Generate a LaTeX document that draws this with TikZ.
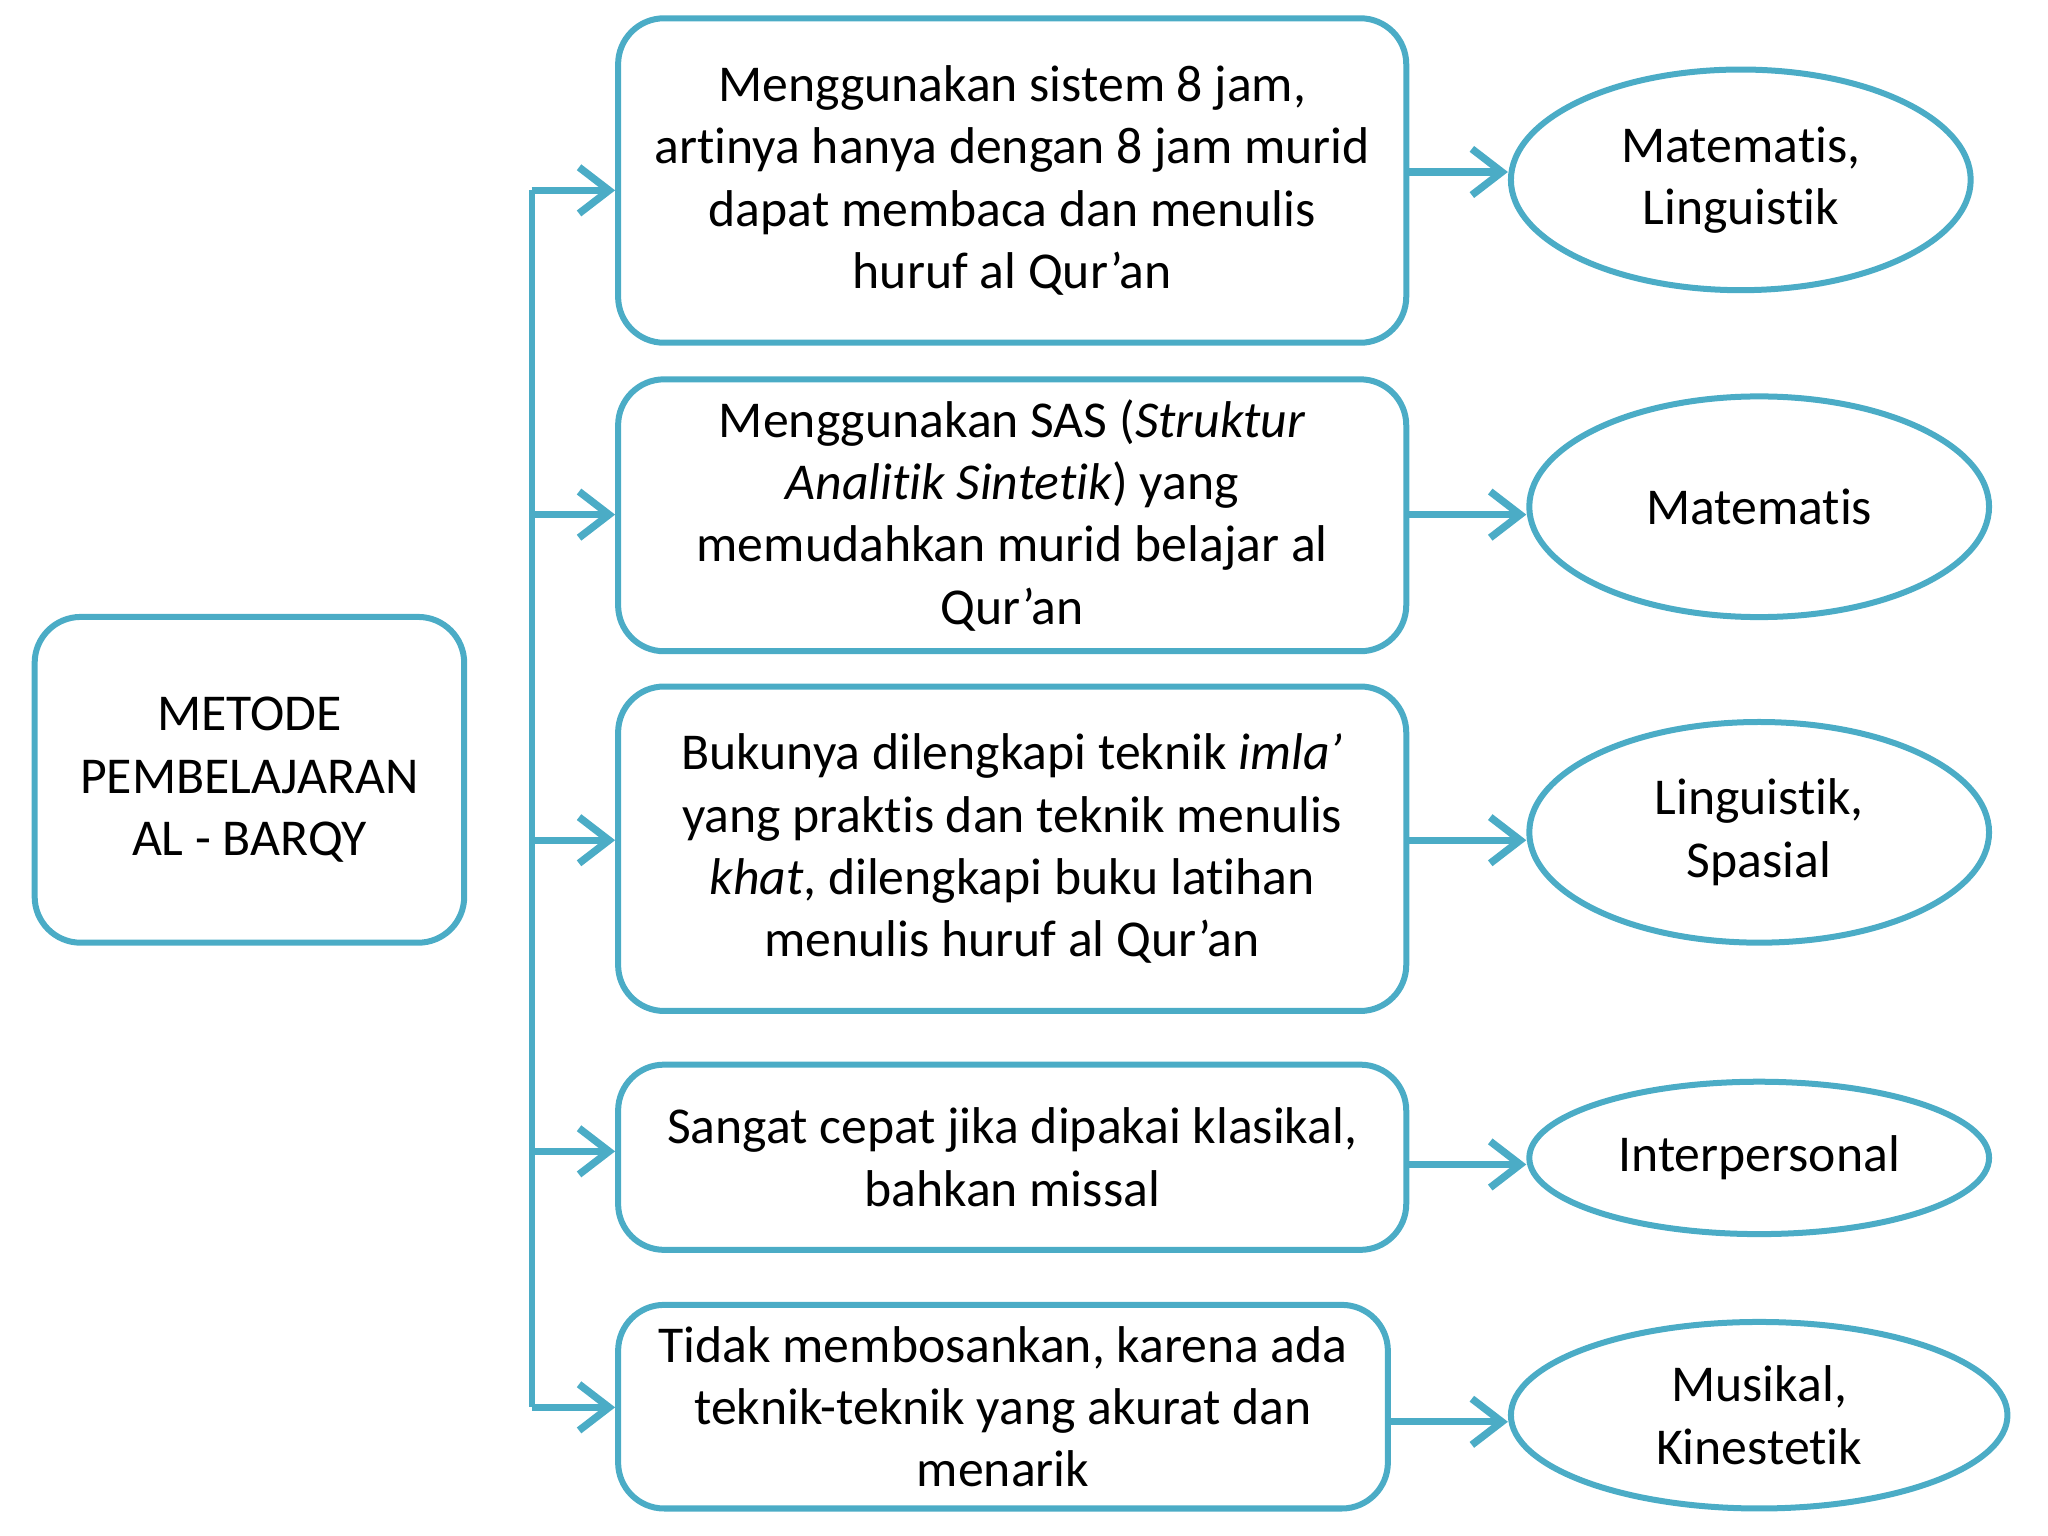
\documentclass[tikz,border=0pt]{standalone}
\usepackage{fontspec}
\setmainfont[RawFeature=-liga]{Carlito}
\usetikzlibrary{shapes.geometric,arrows.meta}
\definecolor{bl}{RGB}{75,172,198}
\begin{document}
\begin{tikzpicture}[x=0.01cm,y=-0.01cm,
  box/.style={draw=bl,line width=1.3pt,rounded corners=0.35cm,align=center,font=\fontsize{11.2}{13.5}\selectfont,inner sep=0pt},
  ell/.style={draw=bl,line width=1.3pt,ellipse,align=center,font=\fontsize{11.2}{13.5}\selectfont,inner sep=0pt},
  arr/.style={draw=bl,line width=1.6pt,-{Straight Barb[length=6.5pt,width=10pt,line width=1.6pt]}}]
\useasboundingbox (0,0) rectangle (1560,1170);
\node[box,minimum width=3.27cm,minimum height=2.48cm] (m) at (190,594) {METODE\\PEMBELAJARAN\\AL - BARQY};
\node[box,minimum width=6.00cm,minimum height=2.47cm] (b1) at (771,137.5) {Menggunakan sistem 8 jam,\\artinya hanya dengan 8 jam murid\\dapat membaca dan menulis\\huruf al Qur’an};
\node[box,minimum width=6.00cm,minimum height=2.07cm] (b2) at (771,392.5) {Menggunakan SAS (\textit{Struktur}\\\textit{Analitik Sintetik}) yang\\memudahkan murid belajar al\\Qur’an};
\node[box,minimum width=6.00cm,minimum height=2.47cm] (b3) at (771,646.5) {Bukunya dilengkapi teknik \textit{imla’}\\yang praktis dan teknik menulis\\\textit{khat}, dilengkapi buku latihan\\menulis huruf al Qur’an};
\node[box,minimum width=6.00cm,minimum height=1.41cm] (b4) at (771,881.5) {Sangat cepat jika dipakai klasikal,\\bahkan missal};
\node[box,minimum width=5.86cm,minimum height=1.55cm] (b5) at (764,1071.5) {Tidak membosankan, karena ada\\teknik-teknik yang akurat dan\\menarik};
\node[ell,minimum width=3.50cm,minimum height=1.68cm] (e1) at (1326,137) {Matematis,\\Linguistik};
\node[ell,minimum width=3.50cm,minimum height=1.68cm] (e2) at (1340,386) {Matematis};
\node[ell,minimum width=3.50cm,minimum height=1.68cm] (e3) at (1340,634) {Linguistik,\\Spasial};
\node[ell,minimum width=3.50cm,minimum height=1.16cm] (e4) at (1340,882) {Interpersonal};
\node[ell,minimum width=3.78cm,minimum height=1.42cm] (e5) at (1340,1078) {Musikal,\\Kinestetik};
\coordinate (v1) at (405,145);
\coordinate (v2) at (405,392);
\coordinate (v3) at (405,640);
\coordinate (v4) at (405,877);
\coordinate (v5) at (405,1072);
\draw[draw=bl,line width=1.3pt] (v1) -- (v5);
\draw[arr] (v1) -- (b1.west|-v1);
\draw[arr] (v2) -- (b2.west|-v2);
\draw[arr] (v3) -- (b3.west|-v3);
\draw[arr] (v4) -- (b4.west|-v4);
\draw[arr] (v5) -- (b5.west|-v5);
\coordinate (r1) at (1072,131);
\coordinate (r2) at (1072,392);
\coordinate (r3) at (1072,640);
\coordinate (r4) at (1072,887);
\coordinate (r5) at (1058,1083);
\draw[arr] (r1) -- (e1.west|-r1);
\draw[arr] (r2) -- (e2.west|-r2);
\draw[arr] (r3) -- (e3.west|-r3);
\draw[arr] (r4) -- (e4.west|-r4);
\draw[arr] (r5) -- (e5.west|-r5);
\end{tikzpicture}
\end{document}
